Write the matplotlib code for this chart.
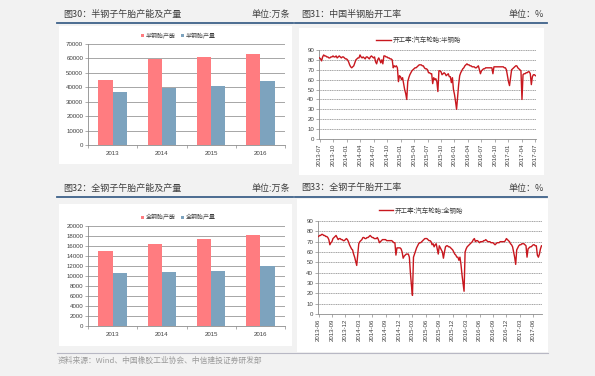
import numpy as np
import matplotlib
matplotlib.use("Agg")
import matplotlib.pyplot as plt
from matplotlib.patches import Rectangle
from matplotlib.lines import Line2D

# ---------------------------------------------------------------
# data
# ---------------------------------------------------------------
years = ['2013', '2014', '2015', '2016']

semi_capacity = [45000, 59500, 60700, 63000]      # 半钢胎产能
semi_output = [36600, 39700, 40600, 44300]        # 半钢胎产量

full_capacity = [15000, 16470, 17400, 18130]      # 全钢胎产能
full_output = [10670, 10870, 11000, 12070]        # 全钢胎产量

# weekly operating rate, semi-steel tyres (2013-07 .. 2017-07)
semi_rate = [
    82, 81, 79, 83, 85, 84, 84, 83, 83, 82,
    82, 83, 83, 84, 83, 83, 84, 82, 83, 84,
    83, 82, 83, 83, 82, 81, 81, 80, 78, 75,
    73, 72, 73, 74, 77, 80, 81, 82, 82, 85,
    83, 82, 83, 82, 81, 83, 83, 82, 81, 83,
    84, 83, 82, 83, 78, 76, 80, 82, 80, 77,
    80, 76, 84, 84, 83, 83, 82, 82, 81, 81,
    80, 72, 74, 73, 74, 72, 58, 64, 63, 60,
    62, 56, 50, 46, 40, 58, 62, 65, 67, 69,
    70, 71, 72, 72, 73, 74, 75, 75, 75, 74,
    74, 72, 71, 71, 70, 67, 67, 66, 66, 56,
    62, 60, 61, 58, 48, 69, 69, 68, 65, 66,
    67, 66, 64, 65, 66, 63, 63, 57, 62, 50,
    45, 38, 30, 42, 55, 64, 67, 69, 71, 72,
    74, 75, 76, 75, 75, 74, 74, 73, 73, 73,
    72, 72, 73, 74, 70, 66, 69, 70, 71, 71,
    72, 72, 72, 72, 72, 72, 72, 66, 73, 73,
    73, 73, 73, 73, 73, 73, 73, 73, 72, 72,
    70, 64, 58, 54, 62, 70, 71, 72, 73, 74,
    74, 72, 71, 70, 69, 40, 65, 66, 66, 67,
    67, 68, 68, 66, 55, 63, 65, 65, 64,
]
semi_labels = ['2013-07', '2013-10', '2014-01', '2014-04', '2014-07', '2014-10',
               '2015-01', '2015-04', '2015-07', '2015-10', '2016-01', '2016-04',
               '2016-07', '2016-10', '2017-01', '2017-04', '2017-07']

# weekly operating rate, all-steel tyres (2013-06 .. 2017-08)
full_rate = [
    75, 76, 76, 77, 77, 76, 76, 75, 75, 74,
    72, 67, 69, 70, 73, 74, 75, 76, 74, 72,
    73, 73, 72, 72, 71, 71, 72, 73, 72, 70,
    67, 65, 63, 62, 58, 55, 51, 47, 58, 68,
    70, 71, 72, 74, 74, 73, 73, 74, 74, 75,
    76, 75, 74, 74, 73, 73, 73, 74, 72, 69,
    70, 71, 72, 72, 72, 72, 71, 71, 71, 71,
    71, 71, 70, 69, 69, 57, 64, 64, 64, 64,
    63, 60, 54, 56, 57, 58, 58, 58, 55, 40,
    28, 18, 55, 58, 61, 64, 66, 68, 69, 69,
    70, 71, 72, 73, 73, 73, 72, 71, 71, 70,
    67, 68, 65, 67, 68, 63, 58, 66, 64, 62,
    60, 54, 60, 65, 66, 66, 65, 65, 64, 63,
    62, 60, 58, 57, 55, 55, 52, 55, 48, 38,
    30, 22, 60, 63, 65, 66, 67, 68, 69, 70,
    72, 73, 70, 71, 71, 70, 69, 70, 70, 70,
    71, 71, 72, 71, 70, 70, 70, 69, 69, 69,
    68, 67, 68, 69, 69, 69, 70, 70, 70, 70,
    70, 71, 73, 72, 71, 70, 68, 67, 65, 60,
    55, 48, 62, 64, 66, 67, 67, 68, 68, 68,
    67, 66, 55, 63, 64, 65, 65, 66, 67, 67,
    66, 66, 57, 55, 58, 63, 66,
]
full_labels = ['2013-06', '2013-09', '2013-12', '2014-03', '2014-06', '2014-09',
               '2014-12', '2015-03', '2015-06', '2015-09', '2015-12', '2016-03',
               '2016-06', '2016-09', '2016-12', '2017-03', '2017-06']

# ---------------------------------------------------------------
W, H = 595, 376
CJK = ['Noto Sans CJK SC', 'DejaVu Sans']
NUM = ['Liberation Sans', 'Noto Sans CJK SC']
plt.rcParams['font.family'] = NUM

PINK = '#FF7C80'
STEEL = '#7DA3BE'
RED = '#C8171E'
RULE = '#3E6189'
GRID = '#A6A6A6'
TXT = '#404040'

fig = plt.figure(figsize=(W / 100, H / 100), dpi=100, facecolor='#F2F2F2')


def fx(x):
    return x / W


def fy(y):
    return 1 - y / H


def rect(x0, y0, x1, y1):
    return [fx(x0), fy(y1), (x1 - x0) / W, (y1 - y0) / H]


def panel(x0, y0, x1, y1):
    fig.patches.append(Rectangle((fx(x0), fy(y1)), (x1 - x0) / W, (y1 - y0) / H,
                                 transform=fig.transFigure, facecolor='white',
                                 edgecolor='none', zorder=-5))


def header(x0, x1, y, title, unit):
    fig.text(fx(x0 + 6), fy(y), title, family=CJK, fontsize=6.5, color=TXT,
             ha='left', va='center')
    fig.text(fx(x1 - 3), fy(y), unit, family=CJK, fontsize=6.5, color=TXT,
             ha='right', va='center')
    fig.add_artist(Line2D([fx(x0), fx(x1)], [fy(y + 9), fy(y + 9)], color=RULE,
                          lw=1.3, transform=fig.transFigure))


def style_axes(ax):
    for s in ['top', 'right']:
        ax.spines[s].set_visible(False)
    for s in ['left', 'bottom']:
        ax.spines[s].set_color('#8C8C8C')
        ax.spines[s].set_linewidth(0.6)
    ax.tick_params(axis='both', labelsize=4.4, colors='#8C8C8C', labelcolor=TXT,
                   length=2, width=0.5, pad=1.5)
    ax.set_facecolor('none')


def bar_chart(box, cap, out, names, ymax, ystep, leg_x):
    ax = fig.add_axes(rect(*box))
    x = np.arange(len(years))
    w = 0.29
    ax.bar(x - w / 2, cap, w, color=PINK, label=names[0], zorder=3)
    ax.bar(x + w / 2, out, w, color=STEEL, label=names[1], zorder=3)
    ax.set_xlim(-0.5, len(years) - 0.5)
    ax.set_ylim(0, ymax)
    ax.set_yticks(np.arange(0, ymax + 1, ystep))
    ax.yaxis.grid(True, color=GRID, lw=0.7, zorder=0)
    ax.set_xticks(x)
    ax.set_xticklabels(years)
    ax.set_xticks(np.arange(-0.5, len(years), 1), minor=True)
    style_axes(ax)
    ax.tick_params(axis='x', which='major', length=0, pad=4)
    ax.tick_params(axis='x', which='minor', length=2, width=0.5, colors='#8C8C8C')
    leg = ax.legend(loc='lower center', bbox_to_anchor=(leg_x, 1.03), ncol=2,
                    frameon=False, prop={'family': CJK, 'size': 4.3},
                    handlelength=0.5, handleheight=0.5, handletextpad=0.3,
                    columnspacing=0.9, borderaxespad=0)
    for t in leg.get_texts():
        t.set_color(TXT)
    return ax


def line_chart(box, values, labels, name):
    ax = fig.add_axes(rect(*box))
    n = len(values)
    ax.plot(np.arange(n), values, color=RED, lw=1.0, zorder=3, label=name)
    ax.set_xlim(-0.5, n - 0.5)
    ax.set_ylim(0, 90)
    ax.set_yticks(np.arange(0, 91, 10))
    ax.yaxis.grid(True, color=GRID, lw=0.7, linestyle=(0, (1.2, 0.6)), zorder=0)
    ax.set_xticks(np.arange(len(labels)) * 13)
    ax.set_xticklabels(labels, rotation=90)
    style_axes(ax)
    leg = ax.legend(loc='lower center', bbox_to_anchor=(0.46, 1.04), frameon=False,
                    prop={'family': CJK, 'size': 4.7}, handlelength=2.2,
                    handletextpad=0.3, borderaxespad=0)
    for t in leg.get_texts():
        t.set_color(TXT)
    return ax


# panels
panel(59, 26, 292, 164)
panel(299, 28, 544, 175)
panel(59, 204, 292, 346)
panel(297, 199, 548, 352)

header(57, 293, 14, '图30：半钢子午胎产能及产量', '单位:万条')
header(295, 547, 14, '图31：中国半钢胎开工率', '单位：%')
header(57, 293, 188, '图32：全钢子午胎产能及产量', '单位:万条')
header(295, 547, 188, '图33：全钢子午胎开工率', '单位：%')

bar_chart((88, 44, 285, 145), semi_capacity, semi_output,
          ['半钢胎产能', '半钢胎产量'], 70000, 10000, 0.46)
bar_chart((88, 226, 285, 326), full_capacity, full_output,
          ['全钢胎产能', '全钢胎产量'], 20000, 2000, 0.46)

line_chart((319, 50, 536, 139), semi_rate, semi_labels, '开工率:汽车轮胎:半钢胎')
line_chart((318, 221, 542, 314), full_rate, full_labels, '开工率:汽车轮胎:全钢胎')

# footer
fig.add_artist(Line2D([fx(57), fx(548)], [fy(353), fy(353)], color='#B8B8C4',
                      lw=0.8, transform=fig.transFigure))
fig.text(fx(58), fy(361), '资料来源：Wind、中国橡胶工业协会、中信建投证券研发部',
         family=CJK, fontsize=5.6, color='#9A9A9A', style='italic',
         ha='left', va='center')

fig.savefig('out.png', dpi=100, facecolor=fig.get_facecolor())
